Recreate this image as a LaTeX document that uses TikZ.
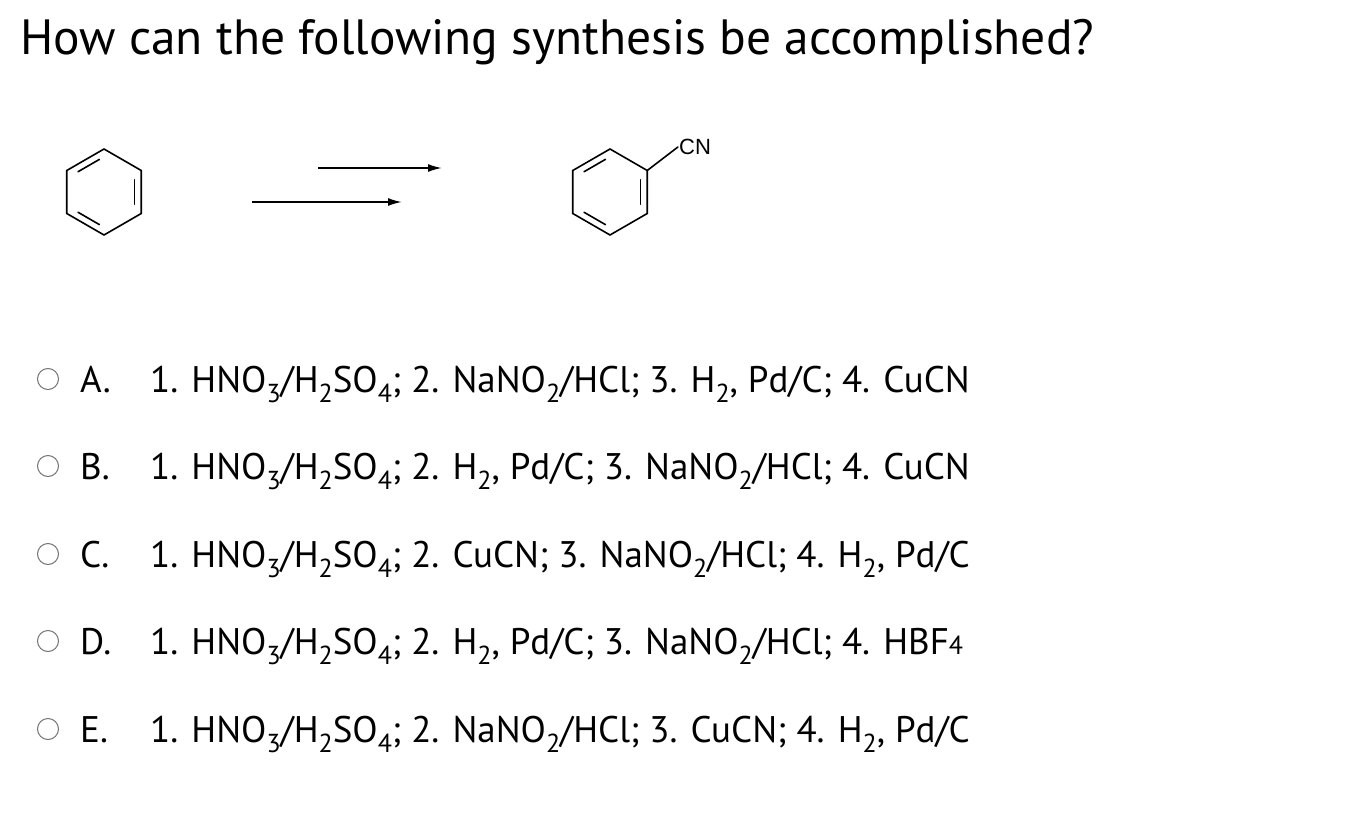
\documentclass[tikz,border=0pt]{standalone}
\usepackage{fontspec}
\usetikzlibrary{calc,arrows.meta}
\setmainfont{PT Sans}
\newfontfamily\arialf{Liberation Sans}
\newcommand{\subn}[1]{\raisebox{-0.28em}{\fontsize{26}{26}\selectfont #1}}
\newcommand{\smn}[1]{{\fontsize{26}{26}\selectfont #1}}
\begin{document}
\begin{tikzpicture}[x=1pt,y=-1pt,
  bond/.style={line width=1.6pt,line cap=round},
  arr/.style={line width=1.8pt,-{Latex[length=14pt,width=8pt]}},
  opt/.style={anchor=base west,font=\fontsize{37}{37}\selectfont,inner sep=0},
  radio/.style={circle,draw=black!55,line width=1pt,minimum size=21pt,inner sep=0}]
\useasboundingbox (0,0) rectangle (1364,826);
\node[anchor=base west,inner sep=0,font=\fontsize{49.5}{49.5}\selectfont] (title) at (20,55) {How can the following synthesis be accomplished?};
% benzene 1
\coordinate (ac) at (104,192);
\foreach \i in {0,...,5}{\coordinate (a\i) at ($(ac)+({90+60*\i}:43)$);}
\draw[bond] (a0)--(a1)--(a2)--(a3)--(a4)--(a5)--cycle;
\draw[bond] ($(a0)!0.15!(a1)!0.18!(ac)$) -- ($(a1)!0.15!(a0)!0.18!(ac)$);
\draw[bond] ($(a2)!0.15!(a3)!0.18!(ac)$) -- ($(a3)!0.15!(a2)!0.18!(ac)$);
\draw[bond] ($(a4)!0.15!(a5)!0.18!(ac)$) -- ($(a5)!0.15!(a4)!0.18!(ac)$);
% benzene 2
\coordinate (bc) at (610,192);
\foreach \i in {0,...,5}{\coordinate (b\i) at ($(bc)+({90+60*\i}:43)$);}
\draw[bond] (b0)--(b1)--(b2)--(b3)--(b4)--(b5)--cycle;
\draw[bond] ($(b0)!0.15!(b1)!0.18!(bc)$) -- ($(b1)!0.15!(b0)!0.18!(bc)$);
\draw[bond] ($(b2)!0.15!(b3)!0.18!(bc)$) -- ($(b3)!0.15!(b2)!0.18!(bc)$);
\draw[bond] ($(b4)!0.15!(b5)!0.18!(bc)$) -- ($(b5)!0.15!(b4)!0.18!(bc)$);
\node[inner sep=1pt,font=\arialf\fontsize{22}{22}\selectfont] (cn) at (695,147) {CN};
\draw[bond] (b4) -- (cn.west);
% arrows
\coordinate (u1) at (318,168); \coordinate (u2) at (442,168);
\coordinate (l1) at (252,202); \coordinate (l2) at (402,202);
\draw[arr] (u1) -- (u2);
\draw[arr] (l1) -- (l2);
% options
\foreach \y/\L/\T [count=\k] in {
 392/A./{1. HNO\subn3/H\subn2SO\subn4; 2. NaNO\subn2/HCl; 3. H\subn2, Pd/C; 4. CuCN},
 479/B./{1. HNO\subn3/H\subn2SO\subn4; 2. H\subn2, Pd/C; 3. NaNO\subn2/HCl; 4. CuCN},
 567/C./{1. HNO\subn3/H\subn2SO\subn4; 2. CuCN; 3. NaNO\subn2/HCl; 4. H\subn2, Pd/C},
 654/D./{1. HNO\subn3/H\subn2SO\subn4; 2. H\subn2, Pd/C; 3. NaNO\subn2/HCl; 4. HBF\smn4},
 742/E./{1. HNO\subn3/H\subn2SO\subn4; 2. NaNO\subn2/HCl; 3. CuCN; 4. H\subn2, Pd/C}}{
 \node[radio] (r\k) at (48,\y-13) {};
 \node[opt] (l\k) at (80,\y) {\L};
 \node[opt] (t\k) at (150,\y) {\T};
}
\end{tikzpicture}
\end{document}
